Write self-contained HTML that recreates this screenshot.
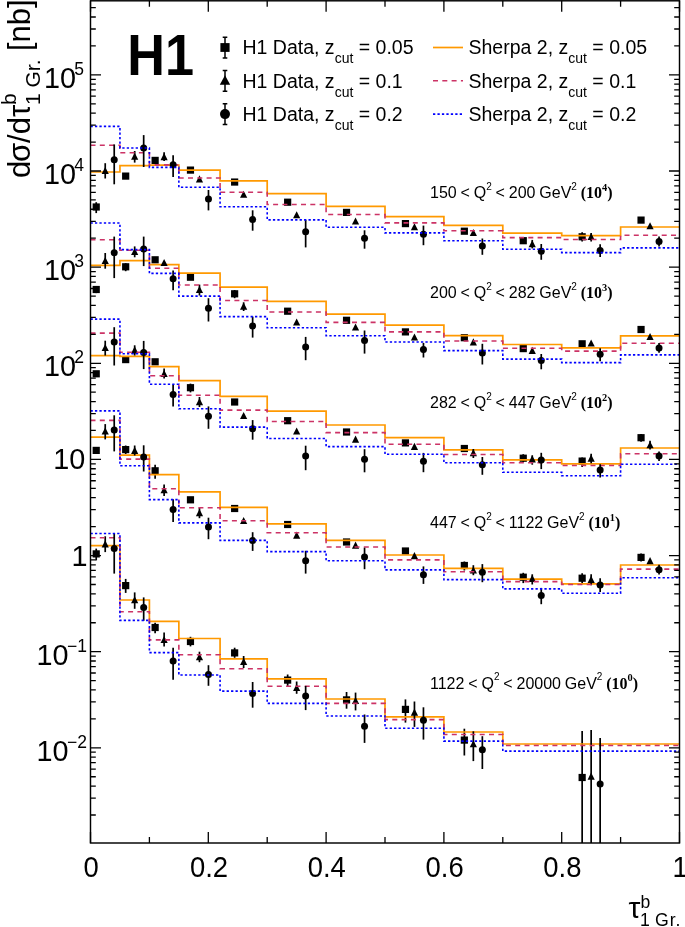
<!DOCTYPE html>
<html><head><meta charset="utf-8"><style>
html,body{margin:0;padding:0;background:#fff;}
svg{display:block;}
text{font-family:'Liberation Sans', Arial, sans-serif;fill:#000;}
</style></head><body>
<svg width="685" height="927" viewBox="0 0 685 927">
<rect width="685" height="927" fill="#fff"/>
<path d="M96.22,202.20V213.10" stroke="#000" stroke-width="1.7"/>
<rect x="92.62" y="203.40" width="7.2" height="7.2"/>
<rect x="122.08" y="172.50" width="7.2" height="7.2"/>
<rect x="151.53" y="156.80" width="7.2" height="7.2"/>
<rect x="186.87" y="166.50" width="7.2" height="7.2"/>
<rect x="231.04" y="178.45" width="7.2" height="7.2"/>
<rect x="284.05" y="198.60" width="7.2" height="7.2"/>
<rect x="342.95" y="208.80" width="7.2" height="7.2"/>
<rect x="401.85" y="220.00" width="7.2" height="7.2"/>
<rect x="460.75" y="227.60" width="7.2" height="7.2"/>
<rect x="519.65" y="237.10" width="7.2" height="7.2"/>
<path d="M582.15,232.20V241.60" stroke="#000" stroke-width="1.7"/>
<rect x="578.55" y="233.20" width="7.2" height="7.2"/>
<rect x="637.45" y="216.50" width="7.2" height="7.2"/>
<path d="M96.22,286.50V293.10" stroke="#000" stroke-width="1.7"/>
<rect x="92.62" y="285.90" width="7.2" height="7.2"/>
<path d="M125.68,263.20V271.20" stroke="#000" stroke-width="1.7"/>
<rect x="122.08" y="263.20" width="7.2" height="7.2"/>
<rect x="151.53" y="256.20" width="7.2" height="7.2"/>
<rect x="186.87" y="273.60" width="7.2" height="7.2"/>
<path d="M234.64,290.00V298.20" stroke="#000" stroke-width="1.7"/>
<rect x="231.04" y="290.20" width="7.2" height="7.2"/>
<rect x="284.05" y="307.60" width="7.2" height="7.2"/>
<rect x="342.95" y="316.70" width="7.2" height="7.2"/>
<rect x="401.85" y="328.30" width="7.2" height="7.2"/>
<rect x="460.75" y="334.10" width="7.2" height="7.2"/>
<rect x="519.65" y="345.00" width="7.2" height="7.2"/>
<rect x="578.55" y="340.20" width="7.2" height="7.2"/>
<rect x="637.45" y="325.90" width="7.2" height="7.2"/>
<rect x="92.62" y="370.20" width="7.2" height="7.2"/>
<rect x="122.08" y="356.00" width="7.2" height="7.2"/>
<rect x="151.53" y="358.20" width="7.2" height="7.2"/>
<path d="M190.47,383.60V392.40" stroke="#000" stroke-width="1.7"/>
<rect x="186.87" y="384.10" width="7.2" height="7.2"/>
<rect x="231.04" y="398.40" width="7.2" height="7.2"/>
<rect x="284.05" y="417.10" width="7.2" height="7.2"/>
<rect x="342.95" y="428.40" width="7.2" height="7.2"/>
<rect x="401.85" y="439.30" width="7.2" height="7.2"/>
<path d="M464.35,445.50V451.80" stroke="#000" stroke-width="1.7"/>
<rect x="460.75" y="444.90" width="7.2" height="7.2"/>
<path d="M523.25,454.20V462.30" stroke="#000" stroke-width="1.7"/>
<rect x="519.65" y="454.60" width="7.2" height="7.2"/>
<path d="M582.15,457.40V466.90" stroke="#000" stroke-width="1.7"/>
<rect x="578.55" y="457.50" width="7.2" height="7.2"/>
<path d="M641.05,434.10V441.80" stroke="#000" stroke-width="1.7"/>
<rect x="637.45" y="434.10" width="7.2" height="7.2"/>
<rect x="92.62" y="446.80" width="7.2" height="7.2"/>
<path d="M125.68,445.50V454.00" stroke="#000" stroke-width="1.7"/>
<rect x="122.08" y="446.00" width="7.2" height="7.2"/>
<path d="M155.12,464.70V478.80" stroke="#000" stroke-width="1.7"/>
<rect x="151.53" y="467.20" width="7.2" height="7.2"/>
<rect x="186.87" y="496.20" width="7.2" height="7.2"/>
<rect x="231.04" y="504.90" width="7.2" height="7.2"/>
<rect x="284.05" y="520.90" width="7.2" height="7.2"/>
<rect x="342.95" y="538.40" width="7.2" height="7.2"/>
<rect x="401.85" y="547.40" width="7.2" height="7.2"/>
<path d="M464.35,561.50V570.50" stroke="#000" stroke-width="1.7"/>
<rect x="460.75" y="561.90" width="7.2" height="7.2"/>
<path d="M523.25,572.80V583.10" stroke="#000" stroke-width="1.7"/>
<rect x="519.65" y="573.60" width="7.2" height="7.2"/>
<path d="M582.15,573.30V583.10" stroke="#000" stroke-width="1.7"/>
<rect x="578.55" y="574.60" width="7.2" height="7.2"/>
<path d="M641.05,553.40V561.40" stroke="#000" stroke-width="1.7"/>
<rect x="637.45" y="553.80" width="7.2" height="7.2"/>
<path d="M96.22,548.60V560.40" stroke="#000" stroke-width="1.7"/>
<rect x="92.62" y="550.30" width="7.2" height="7.2"/>
<path d="M125.68,578.90V592.90" stroke="#000" stroke-width="1.7"/>
<rect x="122.08" y="582.00" width="7.2" height="7.2"/>
<path d="M155.12,622.80V633.30" stroke="#000" stroke-width="1.7"/>
<rect x="151.53" y="623.90" width="7.2" height="7.2"/>
<path d="M190.47,636.80V646.40" stroke="#000" stroke-width="1.7"/>
<rect x="186.87" y="637.90" width="7.2" height="7.2"/>
<path d="M234.64,647.70V657.80" stroke="#000" stroke-width="1.7"/>
<rect x="231.04" y="649.30" width="7.2" height="7.2"/>
<path d="M287.65,674.50V685.90" stroke="#000" stroke-width="1.7"/>
<rect x="284.05" y="676.50" width="7.2" height="7.2"/>
<path d="M346.55,692.00V708.70" stroke="#000" stroke-width="1.7"/>
<rect x="342.95" y="696.30" width="7.2" height="7.2"/>
<path d="M405.45,699.40V722.60" stroke="#000" stroke-width="1.7"/>
<rect x="401.85" y="705.80" width="7.2" height="7.2"/>
<path d="M464.35,728.70V755.50" stroke="#000" stroke-width="1.7"/>
<rect x="460.75" y="736.50" width="7.2" height="7.2"/>
<path d="M582.15,730.90V843.00" stroke="#000" stroke-width="1.7"/>
<rect x="578.55" y="773.90" width="7.2" height="7.2"/>
<path d="M90.50,172.00H119.95V165.60H149.40V165.20H178.85V170.10H220.08V180.90H267.20V193.70H326.10V206.40H385.00V216.60H443.90V225.40H502.80V233.20H561.70V235.60H620.60V227.00H679.50" stroke="#ff9900" stroke-width="1.7" fill="none"/>
<path d="M90.50,265.40H119.95V260.70H149.40V264.60H178.85V273.20H220.08V287.10H267.20V301.40H326.10V314.20H385.00V325.10H443.90V335.70H502.80V344.50H561.70V347.90H620.60V335.90H679.50" stroke="#ff9900" stroke-width="1.7" fill="none"/>
<path d="M90.50,355.70H119.95V356.40H149.40V366.60H178.85V380.70H220.08V396.40H267.20V411.10H326.10V425.00H385.00V437.70H443.90V449.80H502.80V459.90H561.70V463.80H620.60V448.00H679.50" stroke="#ff9900" stroke-width="1.7" fill="none"/>
<path d="M90.50,437.20H119.95V455.20H149.40V474.70H178.85V491.80H220.08V507.30H267.20V523.80H326.10V540.30H385.00V555.00H443.90V568.30H502.80V579.10H561.70V583.90H620.60V565.00H679.50" stroke="#ff9900" stroke-width="1.7" fill="none"/>
<path d="M90.50,545.60H119.95V600.00H149.40V621.30H178.85V638.50H220.08V658.80H267.20V678.90H326.10V699.00H385.00V716.80H443.90V732.00H502.80V744.00H561.70V744.00H620.60V744.00H679.50" stroke="#ff9900" stroke-width="1.7" fill="none"/>
<path d="M105.22,163.20V178.50" stroke="#000" stroke-width="1.7"/>
<path d="M105.22,166.90L108.82,174.00H101.62Z"/>
<path d="M134.68,151.00V162.60" stroke="#000" stroke-width="1.7"/>
<path d="M134.68,152.70L138.28,159.80H131.08Z"/>
<path d="M164.12,152.30V161.10" stroke="#000" stroke-width="1.7"/>
<path d="M164.12,153.10L167.72,160.20H160.53Z"/>
<path d="M199.47,175.30L203.06,182.40H195.87Z"/>
<path d="M243.64,190.70L247.24,197.80H240.04Z"/>
<path d="M296.65,211.20L300.25,218.30H293.05Z"/>
<path d="M355.55,217.50L359.15,224.60H351.95Z"/>
<path d="M414.45,223.20L418.05,230.30H410.85Z"/>
<path d="M473.35,228.90L476.95,236.00H469.75Z"/>
<path d="M532.25,239.90V248.40" stroke="#000" stroke-width="1.7"/>
<path d="M532.25,240.20L535.85,247.30H528.65Z"/>
<path d="M591.15,232.90V241.60" stroke="#000" stroke-width="1.7"/>
<path d="M591.15,233.00L594.75,240.10H587.55Z"/>
<path d="M650.05,222.20L653.65,229.30H646.45Z"/>
<path d="M105.22,253.00V268.70" stroke="#000" stroke-width="1.7"/>
<path d="M105.22,256.90L108.82,264.00H101.62Z"/>
<path d="M134.68,246.40V257.30" stroke="#000" stroke-width="1.7"/>
<path d="M134.68,247.90L138.28,255.00H131.08Z"/>
<path d="M164.12,258.90L167.72,266.00H160.53Z"/>
<path d="M199.47,284.60V295.50" stroke="#000" stroke-width="1.7"/>
<path d="M199.47,286.00L203.06,293.10H195.87Z"/>
<path d="M243.64,302.30V311.00" stroke="#000" stroke-width="1.7"/>
<path d="M243.64,302.60L247.24,309.70H240.04Z"/>
<path d="M296.65,318.40L300.25,325.50H293.05Z"/>
<path d="M355.55,323.40L359.15,330.50H351.95Z"/>
<path d="M414.45,333.40L418.05,340.50H410.85Z"/>
<path d="M473.35,338.30L476.95,345.40H469.75Z"/>
<path d="M532.25,346.80L535.85,353.90H528.65Z"/>
<path d="M591.15,339.50L594.75,346.60H587.55Z"/>
<path d="M650.05,332.90L653.65,340.00H646.45Z"/>
<path d="M105.22,340.70V355.50" stroke="#000" stroke-width="1.7"/>
<path d="M105.22,343.90L108.82,351.00H101.62Z"/>
<path d="M134.68,345.30V355.50" stroke="#000" stroke-width="1.7"/>
<path d="M134.68,346.30L138.28,353.40H131.08Z"/>
<path d="M164.12,368.40V378.60" stroke="#000" stroke-width="1.7"/>
<path d="M164.12,369.90L167.72,377.00H160.53Z"/>
<path d="M199.47,397.00V407.00" stroke="#000" stroke-width="1.7"/>
<path d="M199.47,398.10L203.06,405.20H195.87Z"/>
<path d="M243.64,411.90L247.24,419.00H240.04Z"/>
<path d="M296.65,427.40L300.25,434.50H293.05Z"/>
<path d="M355.55,435.60L359.15,442.70H351.95Z"/>
<path d="M414.45,442.80L418.05,449.90H410.85Z"/>
<path d="M473.35,449.00V458.00" stroke="#000" stroke-width="1.7"/>
<path d="M473.35,449.10L476.95,456.20H469.75Z"/>
<path d="M532.25,455.30V464.70" stroke="#000" stroke-width="1.7"/>
<path d="M532.25,455.30L535.85,462.40H528.65Z"/>
<path d="M591.15,453.80V463.30" stroke="#000" stroke-width="1.7"/>
<path d="M591.15,454.60L594.75,461.70H587.55Z"/>
<path d="M650.05,440.70V449.40" stroke="#000" stroke-width="1.7"/>
<path d="M650.05,441.20L653.65,448.30H646.45Z"/>
<path d="M105.22,424.10V439.40" stroke="#000" stroke-width="1.7"/>
<path d="M105.22,427.50L108.82,434.60H101.62Z"/>
<path d="M134.68,445.50V455.50" stroke="#000" stroke-width="1.7"/>
<path d="M134.68,446.80L138.28,453.90H131.08Z"/>
<path d="M164.12,484.40V496.10" stroke="#000" stroke-width="1.7"/>
<path d="M164.12,486.20L167.72,493.30H160.53Z"/>
<path d="M199.47,507.70V518.20" stroke="#000" stroke-width="1.7"/>
<path d="M199.47,509.10L203.06,516.20H195.87Z"/>
<path d="M243.64,517.00L247.24,524.10H240.04Z"/>
<path d="M296.65,531.60L300.25,538.70H293.05Z"/>
<path d="M355.55,541.60L359.15,548.70H351.95Z"/>
<path d="M414.45,552.10L418.05,559.20H410.85Z"/>
<path d="M473.35,565.20V575.20" stroke="#000" stroke-width="1.7"/>
<path d="M473.35,566.50L476.95,573.60H469.75Z"/>
<path d="M532.25,574.30V584.50" stroke="#000" stroke-width="1.7"/>
<path d="M532.25,574.80L535.85,581.90H528.65Z"/>
<path d="M591.15,574.30V585.30" stroke="#000" stroke-width="1.7"/>
<path d="M591.15,575.80L594.75,582.90H587.55Z"/>
<path d="M650.05,557.10L653.65,564.20H646.45Z"/>
<path d="M105.22,536.30V552.10" stroke="#000" stroke-width="1.7"/>
<path d="M105.22,540.30L108.82,547.40H101.62Z"/>
<path d="M134.68,592.40V608.80" stroke="#000" stroke-width="1.7"/>
<path d="M134.68,596.20L138.28,603.30H131.08Z"/>
<path d="M164.12,632.40V646.40" stroke="#000" stroke-width="1.7"/>
<path d="M164.12,636.00L167.72,643.10H160.53Z"/>
<path d="M199.47,651.70V662.20" stroke="#000" stroke-width="1.7"/>
<path d="M199.47,653.20L203.06,660.30H195.87Z"/>
<path d="M243.64,656.00V668.00" stroke="#000" stroke-width="1.7"/>
<path d="M243.64,657.90L247.24,665.00H240.04Z"/>
<path d="M296.65,681.50V693.80" stroke="#000" stroke-width="1.7"/>
<path d="M296.65,683.90L300.25,691.00H293.05Z"/>
<path d="M355.55,692.60V710.40" stroke="#000" stroke-width="1.7"/>
<path d="M355.55,696.90L359.15,704.00H351.95Z"/>
<path d="M414.45,701.50V726.90" stroke="#000" stroke-width="1.7"/>
<path d="M414.45,708.60L418.05,715.70H410.85Z"/>
<path d="M473.35,731.30V761.10" stroke="#000" stroke-width="1.7"/>
<path d="M473.35,740.20L476.95,747.30H469.75Z"/>
<path d="M591.15,730.00V843.00" stroke="#000" stroke-width="1.7"/>
<path d="M591.15,772.60L594.75,779.70H587.55Z"/>
<path d="M90.50,145.30H119.95V152.70H149.40V164.90H178.85V178.00H220.08V192.30H267.20V204.50H326.10V214.50H385.00V222.90H443.90V230.80H502.80V237.60H561.70V239.50H620.60V235.30H679.50" stroke="#cc3366" stroke-width="1.6" fill="none" stroke-dasharray="5,4.3"/>
<path d="M90.50,239.80H119.95V250.30H149.40V268.30H178.85V285.00H220.08V300.50H267.20V312.00H326.10V322.40H385.00V331.90H443.90V341.00H502.80V348.20H561.70V351.10H620.60V343.20H679.50" stroke="#cc3366" stroke-width="1.6" fill="none" stroke-dasharray="5,4.3"/>
<path d="M90.50,333.10H119.95V352.30H149.40V375.70H178.85V395.20H220.08V410.10H267.20V421.50H326.10V432.60H385.00V444.20H443.90V454.50H502.80V462.80H561.70V465.50H620.60V453.80H679.50" stroke="#cc3366" stroke-width="1.6" fill="none" stroke-dasharray="5,4.3"/>
<path d="M90.50,420.40H119.95V459.10H149.40V488.80H178.85V507.80H220.08V520.80H267.20V532.80H326.10V547.00H385.00V559.90H443.90V571.70H502.80V581.60H561.70V584.50H620.60V569.10H679.50" stroke="#cc3366" stroke-width="1.6" fill="none" stroke-dasharray="5,4.3"/>
<path d="M90.50,537.80H119.95V611.80H149.40V639.90H178.85V654.70H220.08V668.70H267.20V686.30H326.10V703.40H385.00V719.60H443.90V734.50H502.80V745.50H561.70V745.50H620.60V745.50H679.50" stroke="#cc3366" stroke-width="1.6" fill="none" stroke-dasharray="5,4.3"/>
<path d="M114.22,144.40V184.30" stroke="#000" stroke-width="1.7"/>
<circle cx="114.22" cy="159.70" r="3.5"/>
<path d="M143.68,135.10V167.00" stroke="#000" stroke-width="1.7"/>
<circle cx="143.68" cy="148.00" r="3.5"/>
<path d="M173.12,155.30V176.90" stroke="#000" stroke-width="1.7"/>
<circle cx="173.12" cy="164.70" r="3.5"/>
<path d="M208.47,190.00V210.40" stroke="#000" stroke-width="1.7"/>
<circle cx="208.47" cy="199.00" r="3.5"/>
<path d="M252.64,210.30V230.70" stroke="#000" stroke-width="1.7"/>
<circle cx="252.64" cy="219.50" r="3.5"/>
<path d="M305.65,220.00V247.40" stroke="#000" stroke-width="1.7"/>
<circle cx="305.65" cy="231.70" r="3.5"/>
<path d="M364.55,230.30V248.70" stroke="#000" stroke-width="1.7"/>
<circle cx="364.55" cy="238.30" r="3.5"/>
<path d="M423.45,225.60V245.20" stroke="#000" stroke-width="1.7"/>
<circle cx="423.45" cy="234.30" r="3.5"/>
<path d="M482.35,238.50V254.80" stroke="#000" stroke-width="1.7"/>
<circle cx="482.35" cy="246.10" r="3.5"/>
<path d="M541.25,244.00V259.80" stroke="#000" stroke-width="1.7"/>
<circle cx="541.25" cy="251.30" r="3.5"/>
<path d="M600.15,244.20V256.90" stroke="#000" stroke-width="1.7"/>
<circle cx="600.15" cy="250.40" r="3.5"/>
<path d="M659.05,236.50V246.40" stroke="#000" stroke-width="1.7"/>
<circle cx="659.05" cy="241.60" r="3.5"/>
<path d="M114.22,236.60V278.10" stroke="#000" stroke-width="1.7"/>
<circle cx="114.22" cy="252.70" r="3.5"/>
<path d="M143.68,236.60V266.10" stroke="#000" stroke-width="1.7"/>
<circle cx="143.68" cy="249.00" r="3.5"/>
<path d="M173.12,270.50V290.20" stroke="#000" stroke-width="1.7"/>
<circle cx="173.12" cy="278.80" r="3.5"/>
<path d="M208.47,298.20V321.50" stroke="#000" stroke-width="1.7"/>
<circle cx="208.47" cy="308.20" r="3.5"/>
<path d="M252.64,316.60V337.60" stroke="#000" stroke-width="1.7"/>
<circle cx="252.64" cy="325.90" r="3.5"/>
<path d="M305.65,336.90V360.20" stroke="#000" stroke-width="1.7"/>
<circle cx="305.65" cy="346.90" r="3.5"/>
<path d="M364.55,330.50V353.60" stroke="#000" stroke-width="1.7"/>
<circle cx="364.55" cy="340.40" r="3.5"/>
<path d="M423.45,342.90V357.50" stroke="#000" stroke-width="1.7"/>
<circle cx="423.45" cy="349.40" r="3.5"/>
<path d="M482.35,343.80V364.50" stroke="#000" stroke-width="1.7"/>
<circle cx="482.35" cy="352.90" r="3.5"/>
<path d="M541.25,354.00V369.30" stroke="#000" stroke-width="1.7"/>
<circle cx="541.25" cy="360.60" r="3.5"/>
<path d="M600.15,348.20V361.30" stroke="#000" stroke-width="1.7"/>
<circle cx="600.15" cy="354.30" r="3.5"/>
<path d="M659.05,343.10V352.80" stroke="#000" stroke-width="1.7"/>
<circle cx="659.05" cy="347.90" r="3.5"/>
<path d="M114.22,327.20V365.50" stroke="#000" stroke-width="1.7"/>
<circle cx="114.22" cy="342.10" r="3.5"/>
<path d="M143.68,340.90V369.10" stroke="#000" stroke-width="1.7"/>
<circle cx="143.68" cy="352.60" r="3.5"/>
<path d="M173.12,384.50V406.60" stroke="#000" stroke-width="1.7"/>
<circle cx="173.12" cy="394.40" r="3.5"/>
<path d="M208.47,406.40V428.80" stroke="#000" stroke-width="1.7"/>
<circle cx="208.47" cy="416.20" r="3.5"/>
<path d="M252.64,420.10V439.70" stroke="#000" stroke-width="1.7"/>
<circle cx="252.64" cy="428.80" r="3.5"/>
<path d="M305.65,445.70V470.20" stroke="#000" stroke-width="1.7"/>
<circle cx="305.65" cy="456.00" r="3.5"/>
<path d="M364.55,449.20V472.30" stroke="#000" stroke-width="1.7"/>
<circle cx="364.55" cy="459.20" r="3.5"/>
<path d="M423.45,452.90V472.20" stroke="#000" stroke-width="1.7"/>
<circle cx="423.45" cy="461.30" r="3.5"/>
<path d="M482.35,457.00V474.80" stroke="#000" stroke-width="1.7"/>
<circle cx="482.35" cy="464.80" r="3.5"/>
<path d="M541.25,452.80V469.10" stroke="#000" stroke-width="1.7"/>
<circle cx="541.25" cy="460.10" r="3.5"/>
<path d="M600.15,464.30V477.40" stroke="#000" stroke-width="1.7"/>
<circle cx="600.15" cy="470.10" r="3.5"/>
<path d="M659.05,451.60V461.10" stroke="#000" stroke-width="1.7"/>
<circle cx="659.05" cy="456.00" r="3.5"/>
<path d="M114.22,415.30V451.40" stroke="#000" stroke-width="1.7"/>
<circle cx="114.22" cy="429.90" r="3.5"/>
<path d="M143.68,445.30V471.50" stroke="#000" stroke-width="1.7"/>
<circle cx="143.68" cy="456.90" r="3.5"/>
<path d="M173.12,499.30V522.00" stroke="#000" stroke-width="1.7"/>
<circle cx="173.12" cy="509.50" r="3.5"/>
<path d="M208.47,517.70V539.20" stroke="#000" stroke-width="1.7"/>
<circle cx="208.47" cy="526.90" r="3.5"/>
<path d="M252.64,532.20V550.90" stroke="#000" stroke-width="1.7"/>
<circle cx="252.64" cy="540.60" r="3.5"/>
<path d="M305.65,550.80V573.60" stroke="#000" stroke-width="1.7"/>
<circle cx="305.65" cy="560.80" r="3.5"/>
<path d="M364.55,547.70V569.20" stroke="#000" stroke-width="1.7"/>
<circle cx="364.55" cy="556.90" r="3.5"/>
<path d="M423.45,566.40V583.90" stroke="#000" stroke-width="1.7"/>
<circle cx="423.45" cy="574.70" r="3.5"/>
<path d="M482.35,564.10V582.20" stroke="#000" stroke-width="1.7"/>
<circle cx="482.35" cy="572.20" r="3.5"/>
<path d="M541.25,587.90V604.20" stroke="#000" stroke-width="1.7"/>
<circle cx="541.25" cy="595.50" r="3.5"/>
<path d="M600.15,578.20V592.00" stroke="#000" stroke-width="1.7"/>
<circle cx="600.15" cy="585.00" r="3.5"/>
<path d="M659.05,564.70V574.50" stroke="#000" stroke-width="1.7"/>
<circle cx="659.05" cy="569.70" r="3.5"/>
<path d="M114.22,533.20V573.60" stroke="#000" stroke-width="1.7"/>
<circle cx="114.22" cy="548.60" r="3.5"/>
<path d="M143.68,597.40V620.80" stroke="#000" stroke-width="1.7"/>
<circle cx="143.68" cy="607.60" r="3.5"/>
<path d="M173.12,647.70V679.70" stroke="#000" stroke-width="1.7"/>
<circle cx="173.12" cy="661.00" r="3.5"/>
<path d="M208.47,665.20V685.80" stroke="#000" stroke-width="1.7"/>
<circle cx="208.47" cy="674.50" r="3.5"/>
<path d="M252.64,682.00V707.70" stroke="#000" stroke-width="1.7"/>
<circle cx="252.64" cy="693.40" r="3.5"/>
<path d="M305.65,685.90V710.10" stroke="#000" stroke-width="1.7"/>
<circle cx="305.65" cy="696.10" r="3.5"/>
<path d="M364.55,714.50V742.90" stroke="#000" stroke-width="1.7"/>
<circle cx="364.55" cy="726.20" r="3.5"/>
<path d="M423.45,707.30V739.60" stroke="#000" stroke-width="1.7"/>
<circle cx="423.45" cy="720.30" r="3.5"/>
<path d="M482.35,736.20V769.00" stroke="#000" stroke-width="1.7"/>
<circle cx="482.35" cy="749.70" r="3.5"/>
<path d="M600.15,737.90V843.00" stroke="#000" stroke-width="1.7"/>
<circle cx="600.15" cy="783.90" r="3.5"/>
<path d="M90.50,126.40H119.95V148.00H149.40V167.40H178.85V187.30H220.08V206.70H267.20V219.90H326.10V227.30H385.00V232.90H443.90V240.80H502.80V249.30H561.70V252.60H620.60V247.90H679.50" stroke="#0000ff" stroke-width="1.6" fill="none" stroke-dasharray="2.3,2.15"/>
<path d="M90.50,223.00H119.95V249.60H149.40V273.40H178.85V296.10H220.08V316.60H267.20V327.70H326.10V335.70H385.00V342.00H443.90V350.60H502.80V359.10H561.70V362.60H620.60V354.90H679.50" stroke="#0000ff" stroke-width="1.6" fill="none" stroke-dasharray="2.3,2.15"/>
<path d="M90.50,319.10H119.95V353.80H149.40V384.20H178.85V408.80H220.08V427.10H267.20V438.50H326.10V446.60H385.00V454.30H443.90V462.80H502.80V472.30H561.70V475.70H620.60V464.30H679.50" stroke="#0000ff" stroke-width="1.6" fill="none" stroke-dasharray="2.3,2.15"/>
<path d="M90.50,410.90H119.95V465.70H149.40V499.60H178.85V522.90H220.08V540.40H267.20V551.60H326.10V560.80H385.00V569.90H443.90V579.60H502.80V588.90H561.70V593.20H620.60V577.70H679.50" stroke="#0000ff" stroke-width="1.6" fill="none" stroke-dasharray="2.3,2.15"/>
<path d="M90.50,533.50H119.95V620.40H149.40V652.60H178.85V675.00H220.08V691.10H267.20V703.40H326.10V716.00H385.00V728.30H443.90V741.10H502.80V751.10H561.70V751.10H620.60V751.10H679.50" stroke="#0000ff" stroke-width="1.6" fill="none" stroke-dasharray="2.3,2.15"/>
<rect x="90.5" y="0.8" width="589.0" height="842.2" fill="none" stroke="#000" stroke-width="1.45"/>
<path d="M90.5,814.99h5.3M679.5,814.99h-5.3M90.5,798.06h5.3M679.5,798.06h-5.3M90.5,786.05h5.3M679.5,786.05h-5.3M90.5,776.74h5.3M679.5,776.74h-5.3M90.5,769.13h5.3M679.5,769.13h-5.3M90.5,762.69h5.3M679.5,762.69h-5.3M90.5,757.12h5.3M679.5,757.12h-5.3M90.5,752.20h5.3M679.5,752.20h-5.3M90.5,747.80h10.5M679.5,747.80h-10.5M90.5,718.86h5.3M679.5,718.86h-5.3M90.5,701.93h5.3M679.5,701.93h-5.3M90.5,689.92h5.3M679.5,689.92h-5.3M90.5,680.61h5.3M679.5,680.61h-5.3M90.5,673.00h5.3M679.5,673.00h-5.3M90.5,666.56h5.3M679.5,666.56h-5.3M90.5,660.99h5.3M679.5,660.99h-5.3M90.5,656.07h5.3M679.5,656.07h-5.3M90.5,651.67h10.5M679.5,651.67h-10.5M90.5,622.73h5.3M679.5,622.73h-5.3M90.5,605.80h5.3M679.5,605.80h-5.3M90.5,593.79h5.3M679.5,593.79h-5.3M90.5,584.48h5.3M679.5,584.48h-5.3M90.5,576.87h5.3M679.5,576.87h-5.3M90.5,570.43h5.3M679.5,570.43h-5.3M90.5,564.86h5.3M679.5,564.86h-5.3M90.5,559.94h5.3M679.5,559.94h-5.3M90.5,555.54h10.5M679.5,555.54h-10.5M90.5,526.60h5.3M679.5,526.60h-5.3M90.5,509.67h5.3M679.5,509.67h-5.3M90.5,497.66h5.3M679.5,497.66h-5.3M90.5,488.35h5.3M679.5,488.35h-5.3M90.5,480.74h5.3M679.5,480.74h-5.3M90.5,474.30h5.3M679.5,474.30h-5.3M90.5,468.73h5.3M679.5,468.73h-5.3M90.5,463.81h5.3M679.5,463.81h-5.3M90.5,459.41h10.5M679.5,459.41h-10.5M90.5,430.47h5.3M679.5,430.47h-5.3M90.5,413.54h5.3M679.5,413.54h-5.3M90.5,401.53h5.3M679.5,401.53h-5.3M90.5,392.22h5.3M679.5,392.22h-5.3M90.5,384.61h5.3M679.5,384.61h-5.3M90.5,378.17h5.3M679.5,378.17h-5.3M90.5,372.60h5.3M679.5,372.60h-5.3M90.5,367.68h5.3M679.5,367.68h-5.3M90.5,363.28h10.5M679.5,363.28h-10.5M90.5,334.34h5.3M679.5,334.34h-5.3M90.5,317.41h5.3M679.5,317.41h-5.3M90.5,305.40h5.3M679.5,305.40h-5.3M90.5,296.09h5.3M679.5,296.09h-5.3M90.5,288.48h5.3M679.5,288.48h-5.3M90.5,282.04h5.3M679.5,282.04h-5.3M90.5,276.47h5.3M679.5,276.47h-5.3M90.5,271.55h5.3M679.5,271.55h-5.3M90.5,267.15h10.5M679.5,267.15h-10.5M90.5,238.21h5.3M679.5,238.21h-5.3M90.5,221.28h5.3M679.5,221.28h-5.3M90.5,209.27h5.3M679.5,209.27h-5.3M90.5,199.96h5.3M679.5,199.96h-5.3M90.5,192.35h5.3M679.5,192.35h-5.3M90.5,185.91h5.3M679.5,185.91h-5.3M90.5,180.34h5.3M679.5,180.34h-5.3M90.5,175.42h5.3M679.5,175.42h-5.3M90.5,171.02h10.5M679.5,171.02h-10.5M90.5,142.08h5.3M679.5,142.08h-5.3M90.5,125.15h5.3M679.5,125.15h-5.3M90.5,113.14h5.3M679.5,113.14h-5.3M90.5,103.83h5.3M679.5,103.83h-5.3M90.5,96.22h5.3M679.5,96.22h-5.3M90.5,89.78h5.3M679.5,89.78h-5.3M90.5,84.21h5.3M679.5,84.21h-5.3M90.5,79.29h5.3M679.5,79.29h-5.3M90.5,74.89h10.5M679.5,74.89h-10.5M90.5,45.95h5.3M679.5,45.95h-5.3M90.5,29.02h5.3M679.5,29.02h-5.3M90.5,17.01h5.3M679.5,17.01h-5.3M90.5,7.70h5.3M679.5,7.70h-5.3M90.50,843.0v-11M90.50,0.8v11M149.40,843.0v-6M149.40,0.8v6M208.30,843.0v-11M208.30,0.8v11M267.20,843.0v-6M267.20,0.8v6M326.10,843.0v-11M326.10,0.8v11M385.00,843.0v-6M385.00,0.8v6M443.90,843.0v-11M443.90,0.8v11M502.80,843.0v-6M502.80,0.8v6M561.70,843.0v-11M561.70,0.8v11M620.60,843.0v-6M620.60,0.8v6M679.50,843.0v-11M679.50,0.8v11" stroke="#000" stroke-width="1.3" fill="none"/>
<text transform="translate(91.20,876.8) scale(0.953,1)" font-size="28.8" text-anchor="middle">0</text>
<text transform="translate(209.00,876.8) scale(0.953,1)" font-size="28.8" text-anchor="middle">0.2</text>
<text transform="translate(326.80,876.8) scale(0.953,1)" font-size="28.8" text-anchor="middle">0.4</text>
<text transform="translate(444.60,876.8) scale(0.953,1)" font-size="28.8" text-anchor="middle">0.6</text>
<text transform="translate(562.40,876.8) scale(0.953,1)" font-size="28.8" text-anchor="middle">0.8</text>
<text transform="translate(680.20,876.8) scale(0.953,1)" font-size="28.8" text-anchor="middle">1</text>
<text x="68.6" y="760.80" font-size="28.8" text-anchor="end">10</text>
<text x="67.0" y="747.80" font-size="17.5">&#8722;2</text>
<text x="68.6" y="664.67" font-size="28.8" text-anchor="end">10</text>
<text x="67.0" y="651.67" font-size="17.5">&#8722;1</text>
<text x="87.6" y="565.54" font-size="28.8" text-anchor="end">1</text>
<text x="85.4" y="469.41" font-size="28.8" text-anchor="end">10</text>
<text x="76.1" y="376.28" font-size="28.8" text-anchor="end">10</text>
<text x="74.3" y="363.28" font-size="17.5">2</text>
<text x="76.1" y="280.15" font-size="28.8" text-anchor="end">10</text>
<text x="74.3" y="267.15" font-size="17.5">3</text>
<text x="76.1" y="184.02" font-size="28.8" text-anchor="end">10</text>
<text x="74.3" y="171.02" font-size="17.5">4</text>
<text x="76.1" y="87.89" font-size="28.8" text-anchor="end">10</text>
<text x="74.3" y="74.89" font-size="17.5">5</text>
<text transform="rotate(-90)" x="-178" y="29.6" font-size="31">d</text>
<text transform="rotate(-90)" x="-161.9" y="29.6" font-size="31" font-family="'Liberation Serif', 'Times New Roman', serif">&#963;</text>
<text transform="rotate(-90)" x="-143" y="29.6" font-size="31">/</text>
<text transform="rotate(-90)" x="-134.3" y="29.6" font-size="31">d</text>
<text transform="rotate(-90)" x="-116.9" y="29.6" font-size="31" font-family="'Liberation Serif', 'Times New Roman', serif">&#964;</text>
<text transform="rotate(-90)" x="-105" y="16.2" font-size="21">b</text>
<text transform="rotate(-90)" x="-105" y="40.4" font-size="21">1 Gr.</text>
<text transform="rotate(-90)" x="-51" y="29.6" font-size="31">[nb]</text>
<text x="628.6" y="918.3" font-size="30" font-family="'Liberation Serif', 'Times New Roman', serif">&#964;</text>
<text x="640.4" y="908.3" font-size="17.6">b</text>
<text x="640.0" y="925.7" font-size="17.7">1</text>
<text x="655.0" y="925.7" font-size="17.7" letter-spacing="0.9">Gr.</text>
<text transform="translate(127.3,75.1) scale(0.92,1)" font-size="56.8" font-weight="bold">H1</text>
<path d="M225.0,37.2V58.0M222.7,37.2h4.6M222.7,58.0h4.6" stroke="#000" stroke-width="1.5"/>
<rect x="220.4" y="43.1" width="9.2" height="8.8"/>
<text x="242.5" y="54.3" font-size="19.5">H1 Data, z<tspan dy="9" font-size="14">cut</tspan><tspan dy="-9"> = 0.05</tspan></text>
<path d="M433,47.5H463" stroke="#ff9900" stroke-width="1.7" fill="none"/>
<text x="468.5" y="54.3" font-size="19.5">Sherpa 2, z<tspan dy="9" font-size="14">cut</tspan><tspan dy="-9"> = 0.05</tspan></text>
<path d="M225.0,70.5V91.3M222.7,70.5h4.6M222.7,91.3h4.6" stroke="#000" stroke-width="1.5"/>
<path d="M225.0,75.3L230.2,84.8H219.8Z"/>
<text x="242.5" y="87.6" font-size="19.5">H1 Data, z<tspan dy="9" font-size="14">cut</tspan><tspan dy="-9"> = 0.1</tspan></text>
<path d="M433,80.8H463" stroke="#cc3366" stroke-width="1.6" fill="none" stroke-dasharray="5,4.3"/>
<text x="468.5" y="87.6" font-size="19.5">Sherpa 2, z<tspan dy="9" font-size="14">cut</tspan><tspan dy="-9"> = 0.1</tspan></text>
<path d="M225.0,103.8V124.6M222.7,103.8h4.6M222.7,124.6h4.6" stroke="#000" stroke-width="1.5"/>
<circle cx="225.0" cy="114.1" r="5"/>
<text x="242.5" y="120.9" font-size="19.5">H1 Data, z<tspan dy="9" font-size="14">cut</tspan><tspan dy="-9"> = 0.2</tspan></text>
<path d="M433,114.1H463" stroke="#0000ff" stroke-width="1.6" fill="none" stroke-dasharray="2.3,2.15"/>
<text x="468.5" y="120.9" font-size="19.5">Sherpa 2, z<tspan dy="9" font-size="14">cut</tspan><tspan dy="-9"> = 0.2</tspan></text>
<text x="430" y="198.0" font-size="16" word-spacing="-0.6">150 &lt; Q<tspan dy="-8.2" font-size="10">2</tspan><tspan dy="8.2"> &lt; 200 GeV</tspan><tspan dy="-8.2" font-size="10">2</tspan><tspan dy="8.2"> </tspan><tspan font-family="'Liberation Serif', 'Times New Roman', serif" font-weight="bold" font-size="16">(10<tspan dy="-7.2" font-size="10.4">4</tspan><tspan dy="7.2">)</tspan></tspan></text>
<text x="430" y="298.0" font-size="16" word-spacing="-0.6">200 &lt; Q<tspan dy="-8.2" font-size="10">2</tspan><tspan dy="8.2"> &lt; 282 GeV</tspan><tspan dy="-8.2" font-size="10">2</tspan><tspan dy="8.2"> </tspan><tspan font-family="'Liberation Serif', 'Times New Roman', serif" font-weight="bold" font-size="16">(10<tspan dy="-7.2" font-size="10.4">3</tspan><tspan dy="7.2">)</tspan></tspan></text>
<text x="430" y="408.0" font-size="16" word-spacing="-0.6">282 &lt; Q<tspan dy="-8.2" font-size="10">2</tspan><tspan dy="8.2"> &lt; 447 GeV</tspan><tspan dy="-8.2" font-size="10">2</tspan><tspan dy="8.2"> </tspan><tspan font-family="'Liberation Serif', 'Times New Roman', serif" font-weight="bold" font-size="16">(10<tspan dy="-7.2" font-size="10.4">2</tspan><tspan dy="7.2">)</tspan></tspan></text>
<text x="430" y="528.0" font-size="16" word-spacing="-0.6">447 &lt; Q<tspan dy="-8.2" font-size="10">2</tspan><tspan dy="8.2"> &lt; 1122 GeV</tspan><tspan dy="-8.2" font-size="10">2</tspan><tspan dy="8.2"> </tspan><tspan font-family="'Liberation Serif', 'Times New Roman', serif" font-weight="bold" font-size="16">(10<tspan dy="-7.2" font-size="10.4">1</tspan><tspan dy="7.2">)</tspan></tspan></text>
<text x="430" y="688.6" font-size="16" word-spacing="-0.6">1122 &lt; Q<tspan dy="-8.2" font-size="10">2</tspan><tspan dy="8.2"> &lt; 20000 GeV</tspan><tspan dy="-8.2" font-size="10">2</tspan><tspan dy="8.2"> </tspan><tspan font-family="'Liberation Serif', 'Times New Roman', serif" font-weight="bold" font-size="16">(10<tspan dy="-7.2" font-size="10.4">0</tspan><tspan dy="7.2">)</tspan></tspan></text>
</svg>
</body></html>
